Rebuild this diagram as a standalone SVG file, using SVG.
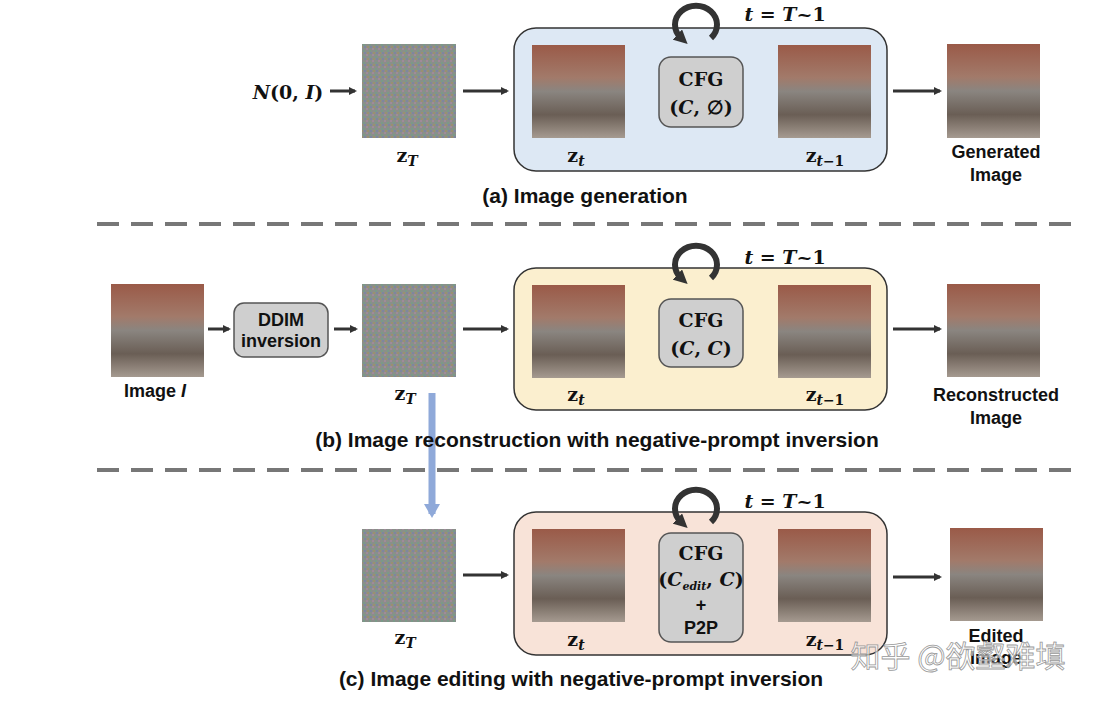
<svg xmlns="http://www.w3.org/2000/svg" width="1101" height="705" viewBox="0 0 1101 705">
<style>
.lbl{font-family:"Liberation Sans",Arial,sans-serif;font-weight:bold;font-size:18px;fill:#111;text-anchor:middle}
.cap{font-family:"Liberation Sans",Arial,sans-serif;font-weight:bold;font-size:21px;fill:#111;text-anchor:middle}
.math{font-family:"DejaVu Serif","Liberation Serif",serif;font-weight:bold;font-size:19px;fill:#111;text-anchor:middle}
.i{font-style:italic}
.noise{fill:url(#nz);stroke:none}
.cat{fill:url(#cat)}
.cfg{fill:#cfcfcf;stroke:#555;stroke-width:1.5}
.ar{stroke:#333;stroke-width:3;fill:none;marker-end:url(#ah)}
.dash{stroke:#777;stroke-width:4;stroke-dasharray:22 12}
.loop{fill:none;stroke:#333;stroke-width:6;marker-end:url(#lp)}
</style>
<defs>
<marker id="ah" markerWidth="8" markerHeight="8" refX="6" refY="4" orient="auto" markerUnits="userSpaceOnUse" viewBox="0 0 8 8"><path d="M0,0 L8,4 L0,8 z" fill="#333"/></marker>
<marker id="ah2" markerWidth="20" markerHeight="16" refX="10" refY="8" orient="auto" markerUnits="userSpaceOnUse"><path d="M0,0 L14,8 L0,16 z" fill="#8fa9d9"/></marker>
<marker id="lp" markerWidth="14" markerHeight="14" refX="5" refY="7" orient="auto" markerUnits="userSpaceOnUse"><path d="M0,0 L14,7 L0,14 z" fill="#333"/></marker>
<pattern id="nz" width="6" height="6" patternUnits="userSpaceOnUse">
<rect width="6" height="6" fill="#8a8f8a"/><rect width="2" height="2" fill="#a08a9a"/><rect x="3" y="2" width="2" height="2" fill="#7a9a88"/><rect x="1" y="4" width="2" height="2" fill="#9a9070"/><rect x="4" y="4" width="2" height="2" fill="#7f85a0"/>
</pattern>
<linearGradient id="cat" x1="0" y1="0" x2="0" y2="1">
<stop offset="0" stop-color="#9a5a48"/><stop offset="0.35" stop-color="#a27a6a"/><stop offset="0.5" stop-color="#8a8580"/><stop offset="0.75" stop-color="#6a5e55"/><stop offset="1" stop-color="#a59a90"/>
</linearGradient>
</defs>
<rect width="1101" height="705" fill="#fff"/>

<g id="connectors">
<line class="ar" x1="330" y1="91" x2="355" y2="91"/>
<line class="ar" x1="463" y1="91" x2="507" y2="91"/>
<line class="ar" x1="629" y1="91" x2="653" y2="91"/>
<line class="ar" x1="746" y1="91" x2="771" y2="91"/>
<line class="ar" x1="893" y1="91" x2="940" y2="91"/>
<line class="ar" x1="208" y1="329" x2="229" y2="329"/>
<line class="ar" x1="334" y1="329" x2="356" y2="329"/>
<line class="ar" x1="463" y1="329" x2="507" y2="329"/>
<line class="ar" x1="629" y1="329" x2="653" y2="329"/>
<line class="ar" x1="746" y1="329" x2="771" y2="329"/>
<line class="ar" x1="893" y1="329" x2="940" y2="329"/>
<line class="ar" x1="463" y1="575" x2="507" y2="575"/>
<line class="ar" x1="629" y1="577" x2="653" y2="577"/>
<line class="ar" x1="746" y1="577" x2="771" y2="577"/>
<line class="ar" x1="893" y1="577" x2="940" y2="577"/>
<line x1="432" y1="393" x2="432" y2="514" stroke="#8fa9d9" stroke-width="7" marker-end="url(#ah2)"/>
</g>

<g id="separators">
<line class="dash" x1="97" y1="224" x2="1075" y2="224"/>
<line class="dash" x1="97" y1="470" x2="1075" y2="470"/>
</g>

<!-- Row a -->
<g id="loop-a"><rect x="514" y="28" width="373" height="143" rx="22" fill="#dde8f4" stroke="#333" stroke-width="1.5"/>
<path class="loop" d="M711,38 A21,19 0 1,0 681,38"/>
<text class="math" x="785" y="21"><tspan class="i">t</tspan> = <tspan class="i">T</tspan>~1</text></g>
<g id="noise-a"><text class="math" x="288" y="99"><tspan class="i">N</tspan>(0, <tspan class="i">I</tspan>)</text>
<rect class="noise" x="362" y="44" width="94" height="94"/><text class="math" x="407" y="162">z<tspan class="i" font-size="14" dy="4">T</tspan></text></g>
<g id="zt-a"><rect class="cat" x="532" y="45" width="93" height="93"/><text class="math" x="576" y="162">z<tspan class="i" font-size="14" dy="4">t</tspan></text></g>
<g id="cfg-a"><rect class="cfg" x="659" y="57" width="84" height="70" rx="12"/><text class="math" x="701" y="86">CFG</text><text class="math" x="701" y="114">(<tspan class="i">C</tspan>, ∅)</text></g>
<g id="zt1-a"><rect class="cat" x="778" y="45" width="93" height="93"/><text class="math" x="825" y="162">z<tspan class="i" font-size="14" dy="4">t</tspan><tspan font-size="14">−1</tspan></text></g>
<g id="gen-a"><rect class="cat" x="947" y="44" width="93" height="94"/><text class="lbl" x="996" y="158">Generated</text><text class="lbl" x="996" y="181">Image</text></g>
<text class="cap" x="585" y="203">(a) Image generation</text>

<!-- Row b -->
<g id="loop-b"><rect x="514" y="268" width="373" height="142" rx="22" fill="#fbefcf" stroke="#333" stroke-width="1.5"/>
<path class="loop" d="M711,278 A21,19 0 1,0 681,278"/>
<text class="math" x="785" y="264"><tspan class="i">t</tspan> = <tspan class="i">T</tspan>~1</text></g>
<g id="img-b"><rect class="cat" x="111" y="284" width="93" height="93"/><text class="lbl" x="155" y="397">Image <tspan font-style="italic">I</tspan></text></g>
<g id="ddim"><rect class="cfg" x="234" y="303" width="94" height="54" rx="10"/><text class="lbl" x="281" y="326" font-size="16">DDIM</text><text class="lbl" x="281" y="347" font-size="16">inversion</text></g>
<g id="noise-b"><rect class="noise" x="362" y="284" width="94" height="93"/><text class="math" x="405" y="400">z<tspan class="i" font-size="14" dy="4">T</tspan></text></g>
<g id="zt-b"><rect class="cat" x="532" y="285" width="93" height="93"/><text class="math" x="576" y="401">z<tspan class="i" font-size="14" dy="4">t</tspan></text></g>
<g id="cfg-b"><rect class="cfg" x="659" y="299" width="84" height="68" rx="12"/><text class="math" x="701" y="327">CFG</text><text class="math" x="701" y="355">(<tspan class="i">C</tspan>, <tspan class="i">C</tspan>)</text></g>
<g id="zt1-b"><rect class="cat" x="778" y="285" width="93" height="93"/><text class="math" x="825" y="401">z<tspan class="i" font-size="14" dy="4">t</tspan><tspan font-size="14">−1</tspan></text></g>
<g id="rec-b"><rect class="cat" x="947" y="284" width="93" height="93"/><text class="lbl" x="996" y="401">Reconstructed</text><text class="lbl" x="996" y="424">Image</text></g>
<text class="cap" x="597" y="447">(b) Image reconstruction with negative-prompt inversion</text>

<!-- Row c -->
<g id="loop-c"><rect x="514" y="512" width="373" height="143" rx="22" fill="#f8e3d8" stroke="#333" stroke-width="1.5"/>
<path class="loop" d="M711,522 A21,19 0 1,0 681,522"/>
<text class="math" x="785" y="508"><tspan class="i">t</tspan> = <tspan class="i">T</tspan>~1</text></g>
<g id="noise-c"><rect class="noise" x="362" y="529" width="94" height="93"/><text class="math" x="405" y="644">z<tspan class="i" font-size="14" dy="4">T</tspan></text></g>
<g id="zt-c"><rect class="cat" x="532" y="529" width="93" height="93"/><text class="math" x="576" y="646">z<tspan class="i" font-size="14" dy="4">t</tspan></text></g>
<g id="cfg-c"><rect class="cfg" x="659" y="533" width="84" height="109" rx="12"/><text class="math" x="701" y="560">CFG</text><text class="math" x="701" y="586" font-size="17">(<tspan class="i">C</tspan><tspan class="i" font-size="11" dy="4">edit</tspan><tspan dy="-4">, </tspan><tspan class="i">C</tspan>)</text><text class="lbl" x="701" y="611" font-size="22">+</text><text class="lbl" x="701" y="634">P2P</text></g>
<g id="zt1-c"><rect class="cat" x="778" y="529" width="93" height="93"/><text class="math" x="825" y="646">z<tspan class="i" font-size="14" dy="4">t</tspan><tspan font-size="14">−1</tspan></text></g>
<g id="edit-c"><rect class="cat" x="950" y="528" width="93" height="93"/><text class="lbl" x="996" y="642">Edited</text><text class="lbl" x="996" y="664" font-size="15">Image</text></g>
<text class="cap" x="581" y="686">(c) Image editing with negative-prompt inversion</text>
<text x="958" y="667" font-family="Noto Sans CJK SC,sans-serif" font-size="30" fill="#fff" fill-opacity="0.6" stroke="#999" stroke-width="0.8" text-anchor="middle">知乎 @欲壑难填</text>
</svg>
